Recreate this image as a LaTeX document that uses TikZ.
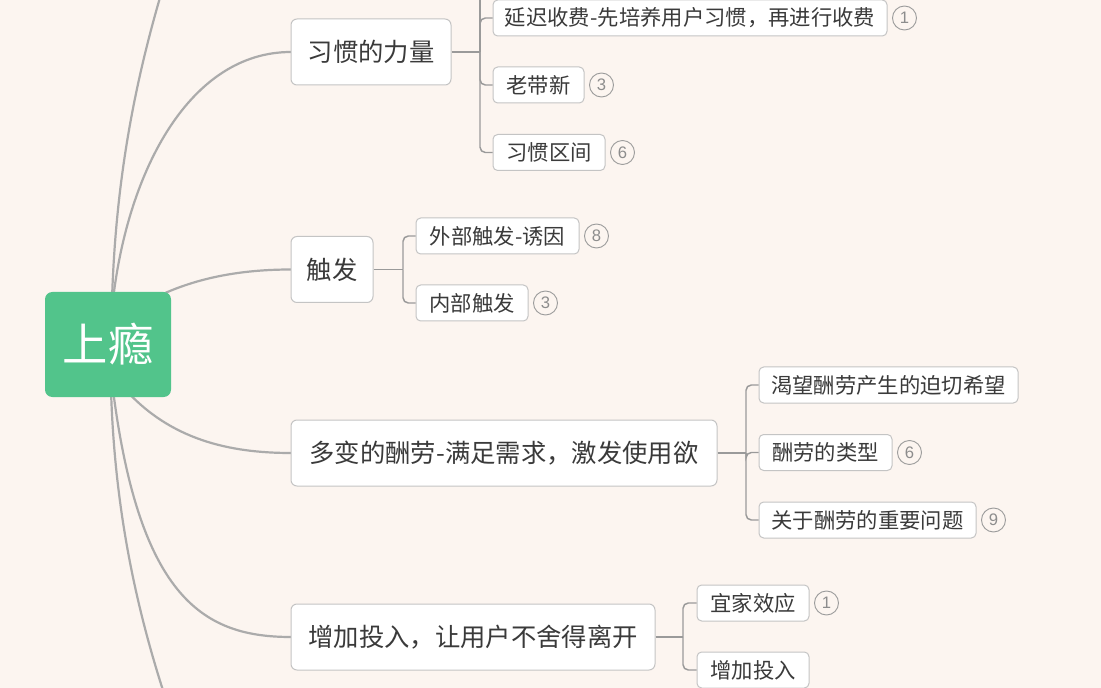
\documentclass[tikz,border=0pt]{standalone}
\usepackage{fontspec}
\setmainfont{Noto Sans CJK SC}
\newfontfamily\numfont{Liberation Sans}
\definecolor{bg}{HTML}{FCF5F0}
\definecolor{rootgreen}{HTML}{52C48B}
\definecolor{txt}{HTML}{3A3A3A}
\definecolor{nodeborder}{HTML}{C4C4C4}
\definecolor{mainline}{HTML}{ABABAB}
\definecolor{subline}{HTML}{9A9A9A}
\definecolor{badgegray}{HTML}{9C9C9C}
\begin{document}
\begin{tikzpicture}[x=0.75pt,y=-0.75pt,
  rootbox/.style={fill=rootgreen,draw=none,rounded corners=5.5pt,text=white,
    font=\fontsize{34}{40}\selectfont,minimum width=94.5pt,minimum height=78.75pt,inner sep=0pt},
  mainbox/.style={fill=white,draw=nodeborder,line width=0.75pt,rounded corners=4.5pt,text=txt,
    font=\fontsize{19}{23}\selectfont,minimum height=49.5pt,inner sep=0pt},
  childbox/.style={fill=white,draw=nodeborder,line width=0.75pt,rounded corners=3.5pt,text=txt,
    font=\fontsize{16}{19}\selectfont,minimum height=27pt,inner sep=0pt},
  badge/.style={circle,draw=badgegray,line width=0.7pt,text=badgegray!90!black,
    font=\numfont\fontsize{12.5}{14}\selectfont,minimum size=18pt,inner sep=0pt},
  mainlink/.style={draw=mainline,line width=1.65pt},
  sublink/.style={draw=subline,line width=1.1pt,rounded corners=4pt},
]
\useasboundingbox (0,0) rectangle (1101,688);
\fill[bg] (0,0) rectangle (1101,688);
\clip (0,0) rectangle (1101,688);

% curved main links (drawn first, behind nodes)
\coordinate (rA) at (112,300);
\coordinate (rB) at (113,300);
\coordinate (rC) at (145,303);
\coordinate (rD) at (124,388);
\coordinate (rE) at (113,390);
\coordinate (rF) at (111,390);
\coordinate (topend) at (178,-60);
\coordinate (botend) at (180,740);
\coordinate (h1w) at (291,52);
\coordinate (h2w) at (291,269.5);
\coordinate (h3w) at (291,453);
\coordinate (h4w) at (291,637);
\path[mainlink] (rA) .. controls (116,170) and (138,60) .. (topend);
\path[mainlink] (rB) .. controls (128,170) and (190,52) .. (h1w);
\path[mainlink] (rC) .. controls (190,278) and (240,269.5) .. (h2w);
\path[mainlink] (rD) .. controls (170,440) and (230,453) .. (h3w);
\path[mainlink] (rE) .. controls (140,600) and (205,637) .. (h4w);
\path[mainlink] (rF) .. controls (115,520) and (140,630) .. (botend);

% nodes
\node[rootbox] (root) at (108,344.5) {上瘾};
\node[mainbox,minimum width=120pt] (h1) at (371,52) {习惯的力量};
\node[mainbox,minimum width=61.5pt] (h2) at (332,269.5) {触发};
\node[mainbox,minimum width=319.5pt] (h3) at (504,453) {多变的酬劳-满足需求，激发使用欲};
\node[mainbox,minimum width=273pt] (h4) at (473,637) {增加投入，让用户不舍得离开};

\node[childbox,minimum width=295.5pt] (c11) at (690,18) {延迟收费-先培养用户习惯，再进行收费};
\node[childbox,minimum width=68.25pt] (c12) at (538.5,85) {老带新};
\node[childbox,minimum width=84pt] (c13) at (549,152.5) {习惯区间};
\node[childbox,minimum width=122.25pt] (c21) at (497.5,236) {外部触发-诱因};
\node[childbox,minimum width=84pt] (c22) at (472,303) {内部触发};
\node[childbox,minimum width=194.25pt] (c31) at (888.5,385) {渴望酬劳产生的迫切希望};
\node[childbox,minimum width=99.75pt] (c32) at (825.5,452.5) {酬劳的类型};
\node[childbox,minimum width=162.75pt] (c33) at (867.5,520) {关于酬劳的重要问题};
\node[childbox,minimum width=84pt] (c41) at (753,603) {宜家效应};
\node[childbox,minimum width=84pt] (c42) at (753,670) {增加投入};

\node[badge] (b11) at ([xshift=12.75pt]c11.east) {1};
\node[badge] (b12) at ([xshift=12.75pt]c12.east) {3};
\node[badge] (b13) at ([xshift=12.75pt]c13.east) {6};
\node[badge] (b21) at ([xshift=12.75pt]c21.east) {8};
\node[badge] (b22) at ([xshift=12.75pt]c22.east) {3};
\node[badge] (b32) at ([xshift=12.75pt]c32.east) {6};
\node[badge] (b33) at ([xshift=12.75pt]c33.east) {9};
\node[badge] (b41) at ([xshift=12.75pt]c41.east) {1};

% sub links
\coordinate (s1) at (480,52);
\coordinate (s1top) at (480,-20);
\coordinate (s2) at (403,269.5);
\coordinate (s3) at (746,453);
\coordinate (s4) at (683,637);
\draw[sublink] (h1.east) -- (s1);
\draw[sublink] (s1) -- (s1top);
\draw[sublink] (s1) |- (c11.west);
\draw[sublink] (s1) |- (c12.west);
\draw[sublink] (s1) |- (c13.west);
\draw[sublink] (h2.east) -- (s2);
\draw[sublink] (s2) |- (c21.west);
\draw[sublink] (s2) |- (c22.west);
\draw[sublink] (h3.east) -- (s3);
\draw[sublink] (s3) |- (c31.west);
\draw[sublink] (s3) |- (c32.west);
\draw[sublink] (s3) |- (c33.west);
\draw[sublink] (h4.east) -- (s4);
\draw[sublink] (s4) |- (c41.west);
\draw[sublink] (s4) |- (c42.west);
\end{tikzpicture}
\end{document}
